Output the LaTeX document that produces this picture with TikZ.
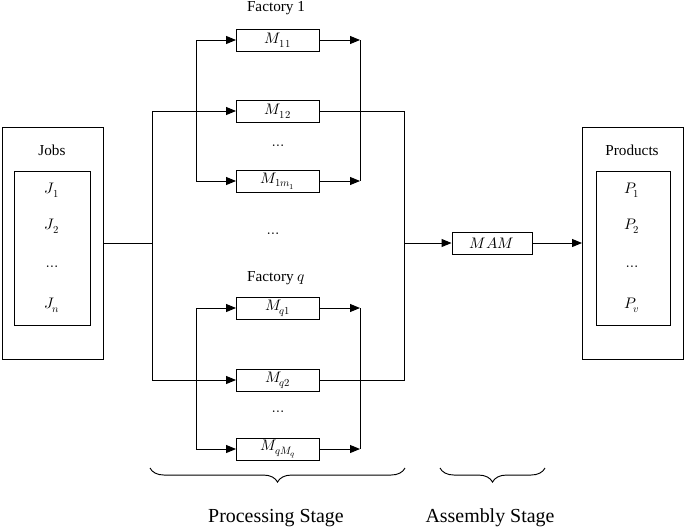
\documentclass[tikz,border=0pt]{standalone}
\usepackage{fontspec}
\setmainfont{Liberation Serif}
\usepackage{unicode-math}
\setmathfont{Latin Modern Math}
\usetikzlibrary{arrows.meta,decorations.pathreplacing}
\begin{document}
\begin{tikzpicture}[x=0.03cm,y=-0.03cm,
  mach/.style={draw,thick,minimum width=2.49cm,minimum height=0.66cm,inner sep=0pt,font=\fontsize{13}{14}\selectfont},
  box/.style={draw,thick},
  arr/.style={thick,-{Triangle[length=3mm,width=2.4mm]}},
  ln/.style={thick},
  lab/.style={font=\fontsize{13}{15}\selectfont},
  big/.style={font=\fontsize{17}{19}\selectfont},
  brc/.style={thick,decorate,decoration={brace,mirror,amplitude=12pt}}]
\useasboundingbox (0,0) rectangle (685,530);
% Jobs
\draw[box] (2,127) rectangle (103,359);
\draw[box] (14,171) rectangle (90,325);
\node[lab] at (52,150) {Jobs};
\node[lab] at (52,190) {$J_1$};
\node[lab] at (52,226) {$J_2$};
\node[lab] at (52,268) {$\cdots$};
\node[lab] at (52,305) {$J_n$};
% Products
\draw[box] (582,127) rectangle (683,359);
\draw[box] (596,171) rectangle (670,325);
\node[lab] at (632,150) {Products};
\node[lab] at (632,190) {$P_1$};
\node[lab] at (632,226) {$P_2$};
\node[lab] at (632,268) {$\cdots$};
\node[lab] at (632,305) {$P_v$};
\coordinate (jobs) at (103,243);
\coordinate (prod) at (582,243);
% machines
\node[mach] (m11) at (278,40) {$M_{11}$};
\node[mach] (m12) at (278,111) {$M_{12}$};
\node[mach] (m1m) at (278,181) {$M_{1m_1}$};
\node[mach] (mq1) at (278,308) {$M_{q1}$};
\node[mach] (mq2) at (278,380) {$M_{q2}$};
\node[mach] (mqm) at (278,449) {$M_{qM_q}$};
\node[mach,minimum width=2.4cm] (mam) at (492,243) {$MAM$};
\node[lab] at (278,147) {$\cdots$};
\node[lab] at (273,235) {$\cdots$};
\node[lab] at (278,413) {$\cdots$};
\node[lab] at (276,8) {Factory 1};
\node[lab] at (276,278) {Factory $q$};
% main buses
\coordinate (a) at (152,243);
\draw[ln] (jobs) -- (a);
\draw[arr] (152,111) |- (m12.west);
\draw[ln] (152,111) -- (152,380);
\draw[arr] (152,380) -- (mq2.west);
\draw[ln] (m12.east) -| (404,380) -- (mq2.east);
\draw[arr] (404,243) -- (mam.west);
\draw[arr] (mam.east) -- (prod);
% factory 1 buses
\draw[arr] (196,181) |- (m11.west);
\draw[arr] (196,181) -- (m1m.west);
\draw[arr] (m11.east) -- (360,40);
\draw[arr] (m1m.east) -- (360,181);
\draw[ln] (360,40) -- (360,181);
% factory q buses
\draw[arr] (196,449) |- (mq1.west);
\draw[arr] (196,449) -- (mqm.west);
\draw[arr] (mq1.east) -- (360,308);
\draw[arr] (mqm.east) -- (360,449);
\draw[ln] (360,308) -- (360,449);
% braces
\draw[brc] (150,468) -- (405,468);
\draw[brc] (440,468) -- (545,468);
\node[big] at (276,518) {Processing Stage};
\node[big] at (490,518) {Assembly Stage};
\end{tikzpicture}
\end{document}
